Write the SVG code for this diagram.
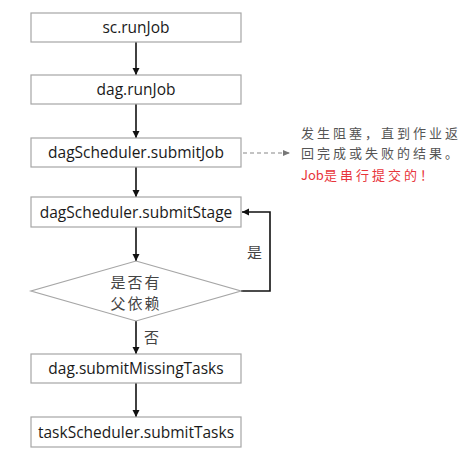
<svg xmlns="http://www.w3.org/2000/svg" width="474" height="454" viewBox="0 0 474 454">
<style>
.box{fill:#fff;stroke:#a6a6a6;stroke-width:1.2}
.t{font-family:"Open Sans","Liberation Sans",sans-serif;font-size:15.5px;fill:#1a1a1a;text-anchor:middle}
.c{font-family:"Noto Sans CJK SC",sans-serif;font-size:15px;fill:#444}
.a{font-family:"Noto Sans CJK SC",sans-serif;font-size:13px;fill:#555;letter-spacing:3px}
.ln{stroke:#111;stroke-width:1.6;fill:none}
</style>
<defs>
<marker id="ah" markerWidth="8" markerHeight="8" refX="7" refY="4" orient="auto" markerUnits="userSpaceOnUse">
<path d="M0,0.5 L7,4 L0,7.5 Z" fill="#111"/>
</marker>
<marker id="ag" markerWidth="8" markerHeight="8" refX="7" refY="4" orient="auto" markerUnits="userSpaceOnUse">
<path d="M0,1 L7,4 L0,7 Z" fill="#777"/>
</marker>
</defs>
<g id="connectors">
<line class="ln" x1="136" y1="42" x2="136" y2="75" marker-end="url(#ah)"/>
<line class="ln" x1="136" y1="104" x2="136" y2="138" marker-end="url(#ah)"/>
<line class="ln" x1="136" y1="167" x2="136" y2="197" marker-end="url(#ah)"/>
<line class="ln" x1="136" y1="227" x2="136" y2="261" marker-end="url(#ah)"/>
<polyline class="ln" points="241,291 270,291 270,212 242,212" marker-end="url(#ah)"/>
<line class="ln" x1="136" y1="321" x2="136" y2="354" marker-end="url(#ah)"/>
<line class="ln" x1="136" y1="383" x2="136" y2="417" marker-end="url(#ah)"/>
<line x1="243" y1="153" x2="290" y2="153" stroke="#888" stroke-width="1.2" stroke-dasharray="4,3" marker-end="url(#ag)"/>
<text class="c" x="247" y="258">是</text>
<text class="c" x="144" y="343">否</text>
</g>
<g id="n1"><rect class="box" x="31" y="13" width="210" height="29"/><text class="t" x="136" y="33">sc.runJob</text></g>
<g id="n2"><rect class="box" x="31" y="75" width="210" height="29"/><text class="t" x="136" y="95">dag.runJob</text></g>
<g id="n3"><rect class="box" x="31" y="138" width="210" height="29"/><text class="t" x="136" y="158">dagScheduler.submitJob</text></g>
<g id="n4"><rect class="box" x="31" y="197" width="210" height="30"/><text class="t" x="136" y="218">dagScheduler.submitStage</text></g>
<g id="n5"><polygon points="136,261 241,291 136,321 31,291" fill="#fff" stroke="#a6a6a6" stroke-width="1.2"/>
<text class="c" x="136" y="288" text-anchor="middle" letter-spacing="2">是否有</text>
<text class="c" x="136" y="309" text-anchor="middle" letter-spacing="2">父依赖</text></g>
<g id="n6"><rect class="box" x="31" y="354" width="210" height="29"/><text class="t" x="136" y="374">dag.submitMissingTasks</text></g>
<g id="n7"><rect class="box" x="31" y="417" width="210" height="30"/><text class="t" x="136" y="438">taskScheduler.submitTasks</text></g>
<g id="note">
<text class="a" x="301" y="138">发生阻塞，直到作业返</text>
<text class="a" x="301" y="158">回完成或失败的结果。</text>
<text class="a" x="301" y="180" style="fill:#e8353b"><tspan style="letter-spacing:0">Job</tspan>是串行提交的！</text>
</g>
</svg>
